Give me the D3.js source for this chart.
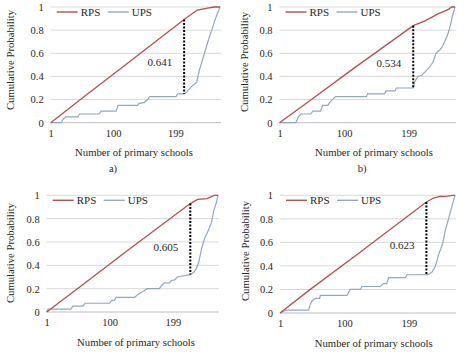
<!DOCTYPE html>
<html><head><meta charset="utf-8">
<script src="https://cdn.jsdelivr.net/npm/d3@7"></script>
<style>
html,body{margin:0;padding:0;background:#fff;}
svg{display:block;}
text{font-family:"Liberation Serif","Times New Roman",serif;fill:#262626;}
</style></head>
<body>
<svg id="chart" width="474" height="355"></svg>
<script>
// ---- data ----
const seriesNames = ["RPS", "UPS"];
const xTicks = [1, 100, 199];
const yTicks = [0, 0.2, 0.4, 0.6, 0.8, 1];
const xDomain = [1, 270];
const panelNames = ["a)", "b)", "", ""];
const ksLabels = ["0.641", "0.534", "0.605", "0.623"];
const ksX = [213, 206, 226.5, 226];

const rpsA = [[1,0],[60,0.25],[120,0.5],[214,0.896],[234,0.974],[250,0.991],[261,1],[270,1]];
const upsA = [[1,0],[18,0],[20,0.025],[25,0.05],[44,0.05],[47,0.075],[78,0.075],[81,0.1],[105,0.1],[108,0.15],[139,0.15],[141,0.165],[150,0.175],[155,0.2],[158,0.225],[200,0.225],[203,0.25],[213,0.25],[216,0.26],[221,0.29],[226,0.32],[229,0.33],[233,0.35],[237,0.45],[242,0.54],[248,0.65],[253,0.74],[258,0.82],[263.5,0.91],[270,1]];

const rpsB = [[1,0],[50,0.2],[110,0.45],[206,0.839],[224,0.88],[244,0.94],[260,0.98],[265,1],[270,1]];
const upsB = [[1,0],[26,0],[30,0.05],[34,0.075],[49,0.075],[52,0.1],[64,0.1],[67,0.15],[75,0.15],[78,0.175],[82,0.2],[87,0.225],[134,0.225],[136,0.25],[162,0.25],[164,0.275],[178,0.275],[180,0.3],[206,0.3],[208,0.35],[213,0.4],[219,0.41],[226,0.45],[231,0.48],[236,0.52],[241,0.6],[247,0.63],[250,0.65],[254,0.7],[258,0.75],[262,0.82],[266,0.92],[270,1]];

const rpsC = [[1,0],[60,0.245],[130,0.535],[226.5,0.929],[238,0.965],[253,0.972],[264,1],[270,1]];
const upsC = [[1,0],[3,0.025],[39,0.025],[42,0.05],[58,0.05],[61,0.075],[100,0.075],[103,0.1],[107,0.1],[110,0.125],[139,0.125],[144,0.15],[152,0.175],[159,0.2],[178,0.2],[181,0.225],[186,0.25],[194,0.25],[197,0.27],[202,0.275],[206,0.3],[226,0.32],[232,0.34],[236,0.37],[240,0.43],[244,0.54],[249,0.63],[254,0.69],[260,0.77],[263,0.86],[267.5,0.94],[270,1]];

const rpsD = [[1,0],[45,0.19],[120,0.5],[226,0.943],[237,0.977],[247,0.99],[258,0.993],[267,1],[270,1]];
const upsD = [[1,0],[6,0.01],[9,0.025],[45,0.025],[47.5,0.075],[50,0.1],[55,0.125],[62,0.125],[63,0.15],[104,0.15],[106.5,0.175],[109,0.2],[124.5,0.2],[127,0.225],[155,0.225],[160,0.25],[165,0.25],[168,0.3],[194,0.3],[196,0.325],[227,0.325],[230,0.33],[235,0.35],[240,0.4],[245,0.5],[248.5,0.55],[251.5,0.6],[255,0.7],[260,0.8],[265,0.9],[270,1]];

const rpsAll = [rpsA, rpsB, rpsC, rpsD];
const upsAll = [upsA, upsB, upsC, upsD];

// ---- layout & style ----
const layout = [
  {left:50.7, right:220, top:7, bottom:122.7, ytX:10, ytY:60, xtX:134, subX:113, labY:0.525},
  {left:279.5, right:455, top:7, bottom:122.7, ytX:244.5, ytY:62, xtX:374, subX:362, labY:0.513},
  {left:46.7, right:218, top:195.3, bottom:312, ytX:10.5, ytY:253, xtX:136, subX:110, labY:0.557},
  {left:280, right:455, top:195.3, bottom:313, ytX:245.3, ytY:251, xtX:373.7, subX:362, labY:0.575}
];
const colors = {RPS:"#b5504e", UPS:"#93a7c1"};

const svg = d3.select("#chart");

layout.forEach((L, i) => {
  const x = d3.scaleLinear().domain(xDomain).range([L.left, L.right]);
  const y = d3.scaleLinear().domain([0, 1]).range([L.bottom, L.top]);
  const g = svg.append("g");

  // gridlines
  g.selectAll("line.grid").data(yTicks).join("line")
    .attr("x1", L.left).attr("x2", L.right + 1)
    .attr("y1", d => y(d)).attr("y2", d => y(d))
    .attr("stroke", d => d === 0 ? "#bdbdbd" : "#d9d9d9").attr("stroke-width", 1);

  // y axis (labels only)
  const yAxis = d3.axisLeft(y).tickValues(yTicks).tickSize(0).tickPadding(7)
    .tickFormat(d => d === 0 ? "0" : d === 1 ? "1" : d3.format(".1f")(d));
  const ya = g.append("g").attr("transform", `translate(${L.left},0)`).call(yAxis);
  ya.select(".domain").remove();
  ya.selectAll("text").attr("font-size", 10.5).attr("fill", "#262626")
    .attr("font-family", "Liberation Serif");

  // x axis (labels only)
  const xAxis = d3.axisBottom(x).tickValues(xTicks).tickSize(0).tickPadding(7);
  const xa = g.append("g").attr("transform", `translate(0,${L.bottom})`).call(xAxis);
  xa.select(".domain").remove();
  xa.selectAll("text").attr("font-size", 10.5).attr("fill", "#262626")
    .attr("font-family", "Liberation Serif");

  // lines
  const line = d3.line().x(d => x(d[0])).y(d => y(d[1]));
  g.append("path").datum(upsAll[i]).attr("d", line)
    .attr("fill", "none").attr("stroke", colors.UPS).attr("stroke-width", 1.2);
  g.append("path").datum(rpsAll[i]).attr("d", line)
    .attr("fill", "none").attr("stroke", colors.RPS).attr("stroke-width", 1.3);

  // KS dotted line
  const interp = (arr, xv) => {
    for (let k = 1; k < arr.length; k++) {
      if (xv <= arr[k][0]) {
        const [x0, y0] = arr[k-1], [x1, y1] = arr[k];
        return y0 + (y1 - y0) * (xv - x0) / (x1 - x0);
      }
    }
    return arr[arr.length-1][1];
  };
  const kx = ksX[i];
  g.append("line")
    .attr("x1", x(kx)).attr("x2", x(kx))
    .attr("y1", y(interp(rpsAll[i], kx))).attr("y2", y(interp(upsAll[i], kx)))
    .attr("stroke", "#000").attr("stroke-width", 2).attr("stroke-dasharray", "2,1.5");
  g.append("text").attr("x", x(kx) - 12).attr("y", y(L.labY)).attr("dy", "0.35em")
    .attr("text-anchor", "end").attr("font-size", 11).text(ksLabels[i]);

  // legend
  const lx = L.left + 6, ly = L.top + 5;
  const leg = g.append("g").attr("transform", `translate(${lx},${ly})`);
  const legData = [{n: seriesNames[0], off: 0}, {n: seriesNames[1], off: 51}];
  legData.forEach(d => {
    leg.append("line").attr("x1", d.off).attr("x2", d.off + 21).attr("y1", 0).attr("y2", 0)
      .attr("stroke", colors[d.n]).attr("stroke-width", 1.4);
    leg.append("text").attr("x", d.off + 24).attr("y", 0).attr("dy", "0.35em")
      .attr("font-size", 11).text(d.n);
  });

  // axis titles
  g.append("text").attr("transform", `translate(${L.ytX},${L.ytY}) rotate(-90)`)
    .attr("text-anchor", "middle").attr("dy", "0.35em").attr("font-size", 10.7)
    .text("Cumulative Probability");
  g.append("text").attr("x", L.xtX).attr("y", L.bottom + 30).attr("dy", "0.35em")
    .attr("text-anchor", "middle").attr("font-size", 10.7).text("Number of primary schools");
  if (panelNames[i]) {
    g.append("text").attr("x", L.subX).attr("y", L.bottom + 45.6).attr("dy", "0.35em")
      .attr("text-anchor", "middle").attr("font-size", 10.5).text(panelNames[i]);
  }
});
</script>
</body></html>
